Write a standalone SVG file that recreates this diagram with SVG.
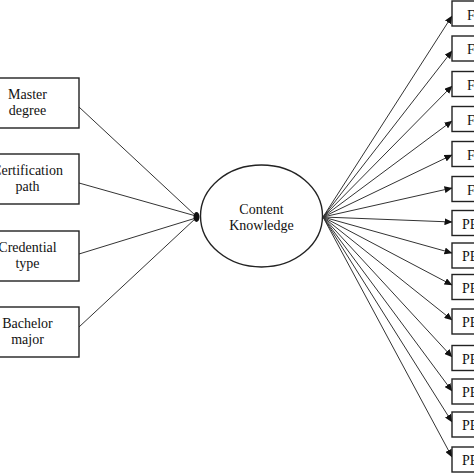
<svg xmlns="http://www.w3.org/2000/svg" width="474" height="474" viewBox="0 0 474 474">
<style>
.box{fill:#fff;stroke:#222;stroke-width:1.4}
.t{font-family:"Liberation Serif","Times New Roman",serif;font-size:14px;fill:#111}
.c{stroke:#333;stroke-width:1;fill:none}
</style>
<defs>
<marker id="ah" markerWidth="8" markerHeight="7" refX="7.5" refY="3.5" orient="auto" markerUnits="userSpaceOnUse">
<path d="M0,0 L8,3.5 L0,7 Z" fill="#111"/>
</marker>
</defs>
<rect width="474" height="474" fill="#fff"/>
<g id="connectors">
<line class="c" x1="79" y1="107" x2="196" y2="216"/>
<line class="c" x1="79" y1="183" x2="196" y2="216"/>
<line class="c" x1="79" y1="254" x2="196" y2="218"/>
<line class="c" x1="79" y1="327" x2="196" y2="218"/>
<ellipse cx="196.5" cy="217" rx="3" ry="5" fill="#111"/>
<line class="c" x1="323" y1="217" x2="452" y2="16" marker-end="url(#ah)"/>
<line class="c" x1="323" y1="217" x2="452" y2="51" marker-end="url(#ah)"/>
<line class="c" x1="323" y1="217" x2="452" y2="86" marker-end="url(#ah)"/>
<line class="c" x1="323" y1="217" x2="452" y2="121" marker-end="url(#ah)"/>
<line class="c" x1="323" y1="217" x2="452" y2="155" marker-end="url(#ah)"/>
<line class="c" x1="323" y1="217" x2="452" y2="188" marker-end="url(#ah)"/>
<line class="c" x1="323" y1="217" x2="452" y2="222" marker-end="url(#ah)"/>
<line class="c" x1="323" y1="217" x2="452" y2="253" marker-end="url(#ah)"/>
<line class="c" x1="323" y1="217" x2="452" y2="285" marker-end="url(#ah)"/>
<line class="c" x1="323" y1="217" x2="452" y2="320" marker-end="url(#ah)"/>
<line class="c" x1="323" y1="217" x2="452" y2="357" marker-end="url(#ah)"/>
<line class="c" x1="323" y1="217" x2="452" y2="391" marker-end="url(#ah)"/>
<line class="c" x1="323" y1="217" x2="452" y2="422" marker-end="url(#ah)"/>
<line class="c" x1="323" y1="217" x2="452" y2="457" marker-end="url(#ah)"/>
</g>
<g id="master">
<rect class="box" x="-25" y="78" width="104" height="50"/>
<text class="t" x="27.5" y="99" text-anchor="middle">Master</text>
<text class="t" x="27.5" y="115" text-anchor="middle">degree</text>
</g>
<g id="certification">
<rect class="box" x="-25" y="154" width="104" height="50"/>
<text class="t" x="27.5" y="175" text-anchor="middle">Certification</text>
<text class="t" x="27.5" y="191" text-anchor="middle">path</text>
</g>
<g id="credential">
<rect class="box" x="-25" y="231" width="104" height="50"/>
<text class="t" x="27.5" y="252" text-anchor="middle">Credential</text>
<text class="t" x="27.5" y="268" text-anchor="middle">type</text>
</g>
<g id="bachelor">
<rect class="box" x="-25" y="307" width="104" height="50"/>
<text class="t" x="27.5" y="328" text-anchor="middle">Bachelor</text>
<text class="t" x="27.5" y="344" text-anchor="middle">major</text>
</g>
<g id="content">
<ellipse cx="261.5" cy="216" rx="61" ry="51" fill="#fff" stroke="#222" stroke-width="1.4"/>
<text class="t" x="261.5" y="214" text-anchor="middle">Content</text>
<text class="t" x="261.5" y="230" text-anchor="middle">Knowledge</text>
</g>
<g id="f1"><rect class="box" x="452" y="1" width="40" height="25"/><text class="t" x="467" y="19.5">F</text></g>
<g id="f2"><rect class="box" x="452" y="36" width="40" height="25"/><text class="t" x="467" y="54">F</text></g>
<g id="f3"><rect class="box" x="452" y="71.5" width="40" height="25"/><text class="t" x="467" y="89.5">F</text></g>
<g id="f4"><rect class="box" x="452" y="106.5" width="40" height="25"/><text class="t" x="467" y="124.5">F</text></g>
<g id="f5"><rect class="box" x="452" y="141.5" width="40" height="25"/><text class="t" x="467" y="159.5">F</text></g>
<g id="f6"><rect class="box" x="452" y="176.5" width="40" height="25"/><text class="t" x="467" y="194.5">F</text></g>
<g id="pe1"><rect class="box" x="452" y="210.5" width="40" height="25"/><text class="t" x="462" y="228.5">PE</text></g>
<g id="pe2"><rect class="box" x="452" y="243" width="40" height="25"/><text class="t" x="462" y="261">PE</text></g>
<g id="pe3"><rect class="box" x="452" y="274.5" width="40" height="25"/><text class="t" x="462" y="292.5">PE</text></g>
<g id="pe4"><rect class="box" x="452" y="309" width="40" height="25"/><text class="t" x="462" y="327">PE</text></g>
<g id="pe5"><rect class="box" x="452" y="345.5" width="40" height="25"/><text class="t" x="462" y="363.5">PE</text></g>
<g id="pe6"><rect class="box" x="452" y="379" width="40" height="25"/><text class="t" x="462" y="397">PE</text></g>
<g id="pe7"><rect class="box" x="452" y="412" width="40" height="25"/><text class="t" x="462" y="430">PE</text></g>
<g id="pe8"><rect class="box" x="452" y="447" width="40" height="25"/><text class="t" x="462" y="465">PE</text></g>
</svg>
